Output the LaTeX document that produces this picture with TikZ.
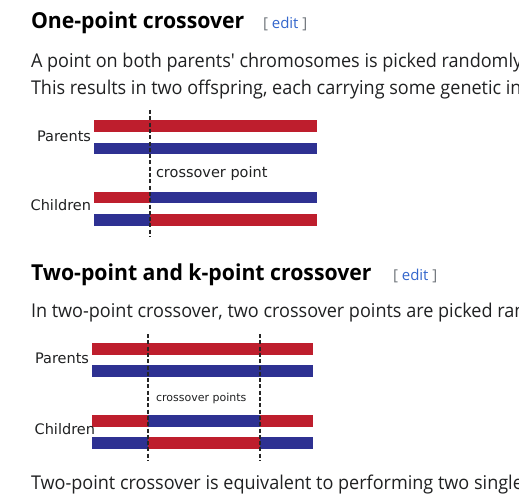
\documentclass[tikz,border=0pt]{standalone}
\usepackage{fontspec}
\setmainfont{Open Sans}
\newfontfamily\headfont[FakeStretch=0.965]{Open Sans}
\newfontfamily\bodyfont[FakeStretch=0.95]{Open Sans}
\newfontfamily\djfont{DejaVu Sans}
\definecolor{barred}{RGB}{190,30,45}
\definecolor{barblue}{RGB}{46,49,146}
\definecolor{bodytext}{RGB}{32,33,34}
\definecolor{editblue}{RGB}{51,102,204}
\definecolor{editgray}{RGB}{114,119,125}
\tikzset{
  txt/.style={inner sep=0pt, outer sep=0pt, anchor=base west, text=bodytext},
  heading/.style={txt, font=\headfont\fontsize{22}{26}\selectfont\bfseries, text=black},
  bodyline/.style={txt, font=\bodyfont\fontsize{19}{23}\selectfont},
  editlink/.style={txt, font=\fontsize{15}{18}\selectfont},
  lbl/.style={inner sep=0pt, outer sep=0pt, anchor=base east, text=bodytext, font=\djfont\fontsize{14.5}{17}\selectfont},
  cplbl/.style={inner sep=0pt, outer sep=0pt, anchor=base west, text=bodytext, font=\djfont\fontsize{14.5}{17}\selectfont},
  cplbls/.style={cplbl, font=\djfont\fontsize{11}{13}\selectfont},
  redbar/.style={fill=barred},
  bluebar/.style={fill=barblue},
  cut/.style={draw=black!85, line width=1.4pt, dash pattern=on 4pt off 2.3pt}
}
\begin{document}
\begin{tikzpicture}[x=1pt,y=-1pt]
\useasboundingbox (0,0) rectangle (519,500);
\clip (0,0) rectangle (519,500);
\fill[white] (0,0) rectangle (519,500);
% headings and text
\node[heading] (h1) at (31,29) {One-point crossover};
\node[editlink] (e1) at (263,29) {\textcolor{editgray}{[}\ \textcolor{editblue}{edit}\ \textcolor{editgray}{]}};
\node[bodyline] (b1) at (31,68) {A point on both parents' chromosomes is picked randomly};
\node[bodyline] (b2) at (31,95) {This results in two offspring, each carrying some genetic in};
\node[heading] (h2) at (31,280) {Two-point and k-point crossover};
\node[editlink] (e2) at (393,280) {\textcolor{editgray}{[}\ \textcolor{editblue}{edit}\ \textcolor{editgray}{]}};
\node[bodyline] (b3) at (31,317) {In two-point crossover, two crossover points are picked ran};
\node[bodyline] (b4) at (31,489) {Two-point crossover is equivalent to performing two single};
% one-point diagram
\fill[redbar] (94,120) rectangle (317,132);
\fill[bluebar] (94,143) rectangle (317,154);
\fill[redbar] (94,192) rectangle (150,203);
\fill[bluebar] (150,192) rectangle (317,203);
\fill[bluebar] (94,214) rectangle (150,226);
\fill[redbar] (150,214) rectangle (317,226);
\coordinate (c1t) at (150,110);
\coordinate (c1b) at (150,237);
\draw[cut] (c1t) -- (c1b);
\node[lbl] (p1) at (91,141) {Parents};
\node[lbl] (ch1) at (91,210) {Children};
\node[cplbl] (cp1) at (156,177) {crossover point};
% two-point diagram
\fill[redbar] (92,343) rectangle (313,355);
\fill[bluebar] (92,365) rectangle (313,377);
\fill[redbar] (92,415) rectangle (148,427);
\fill[bluebar] (148,415) rectangle (260,427);
\fill[redbar] (260,415) rectangle (313,427);
\fill[bluebar] (92,437) rectangle (148,449);
\fill[redbar] (148,437) rectangle (260,449);
\fill[bluebar] (260,437) rectangle (313,449);
\coordinate (c2t) at (148,334);
\coordinate (c2b) at (148,461);
\coordinate (c3t) at (260,334);
\coordinate (c3b) at (260,461);
\draw[cut] (c2t) -- (c2b);
\draw[cut] (c3t) -- (c3b);
\node[lbl] (p2) at (89,363) {Parents};
\node[lbl] (ch2) at (95,434) {Children};
\node[cplbls] (cp2) at (156,401) {crossover points};
\end{tikzpicture}
\end{document}
